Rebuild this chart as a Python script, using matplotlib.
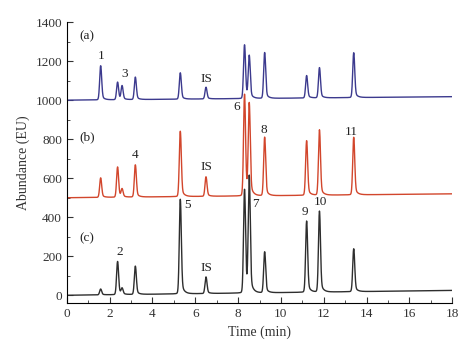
import numpy as np
import matplotlib
matplotlib.use('Agg')
import matplotlib.pyplot as plt
from matplotlib.ticker import MultipleLocator

# retention times (min) of the peaks, shared by all three runs
rt = [1.58, 2.37, 2.58, 3.2, 5.3, 6.5, 8.3, 8.52, 9.24, 11.2, 11.8, 13.4]

# peak heights above baseline for each run
h_a = [175, 90, 70, 115, 135, 60, 275, 215, 235, 115, 155, 230]
h_b = [100, 155, 40, 165, 335, 100, 520, 465, 300, 280, 335, 295]
h_c = [30, 170, 30, 145, 485, 85, 530, 590, 210, 365, 415, 220]

# baseline level at start and end of each run
base_a = [1000, 1018]
base_b = [500, 520]
base_c = [0, 25]

t = np.linspace(0, 18, 4000)


def trace(heights, base):
    y = np.interp(t, [0, 18], base)
    for r, h in zip(rt, heights):
        d = t - r
        g = np.exp(-0.5 * (d / 0.045) ** 2)
        tail = np.where(d > 0, np.exp(-d / 0.12), 0) * 0.15
        lor = 0.06 / (1 + (d / 0.05) ** 2)
        y += h * (g + tail * (1 - g) + lor * (1 - g))
    return y


plt.rcParams['font.family'] = ['Liberation Serif']
fig = plt.figure(figsize=(4.74, 3.57), dpi=100)
ax = fig.add_axes([0.141, 0.151, 0.813, 0.787])

ax.plot(t, trace(h_a, base_a), color='#3c3a8e', lw=1.0)
ax.plot(t, trace(h_b, base_b), color='#d2462c', lw=1.0)
ax.plot(t, trace(h_c, base_c), color='#2e2e2e', lw=1.0)

# annotations
labels = [('(a)', 0.95, 1330), ('(b)', 0.95, 810), ('(c)', 0.95, 292),
          ('1', 1.6, 1225), ('3', 2.7, 1132), ('IS', 6.5, 1110),
          ('6', 7.95, 965), ('8', 9.2, 845), ('11', 13.3, 835),
          ('4', 3.2, 718), ('IS', 6.5, 660),
          ('5', 5.65, 462), ('7', 8.8, 470), ('9', 11.1, 428),
          ('10', 11.85, 478), ('2', 2.45, 222), ('IS', 6.5, 140)]
for s, x, y in labels:
    ax.text(x, y, s, ha='center', va='center', fontsize=9.5, color='#222222')

ax.set_xlim(0, 18)
ax.set_ylim(-40, 1400)
ax.xaxis.set_major_locator(MultipleLocator(2))
ax.xaxis.set_minor_locator(MultipleLocator(1))
ax.yaxis.set_major_locator(MultipleLocator(200))
ax.yaxis.set_minor_locator(MultipleLocator(100))
ax.tick_params(direction='in', which='both', labelsize=9.5, colors='#333333')
ax.tick_params(which='major', length=4)
ax.tick_params(which='minor', length=2.5)
ax.spines['top'].set_visible(False)
ax.spines['right'].set_visible(False)
ax.spines['left'].set_bounds(-40, 1400)
ax.set_xlabel('Time (min)', fontsize=10, color='#333333')
ax.set_ylabel('Abundance (EU)', fontsize=10, color='#333333')

fig.savefig('out.png', dpi=100)
